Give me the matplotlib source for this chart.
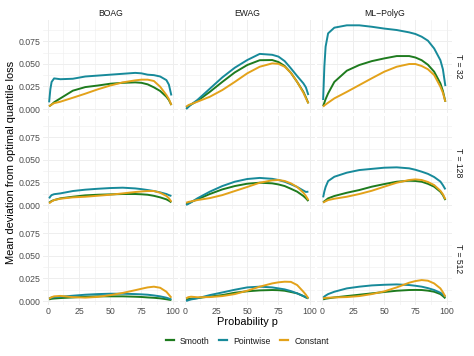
import matplotlib
matplotlib.use("Agg")
import matplotlib.pyplot as plt
from matplotlib.lines import Line2D

plt.rcParams['font.family'] = ['Liberation Sans', 'DejaVu Sans']

methods = ["BOAG", "EWAG", "ML\u2212PolyG"]
horizons = ["T = 32", "T = 128", "T = 512"]
series_names = ["Smooth", "Pointwise", "Constant"]
series_colors = {"Smooth": "#1E7B1E", "Pointwise": "#178A9A", "Constant": "#E3A21A"}

p = [1, 2, 3, 5, 10, 20, 30, 40, 50, 60, 70, 75, 80, 85, 90, 95, 97, 99]

# T = 32
boag_32_smooth = [0.003, 0.004, 0.005, 0.0075, 0.0118, 0.0203, 0.0243, 0.026, 0.028, 0.029, 0.0295, 0.029, 0.0273, 0.024, 0.020, 0.0136, 0.010, 0.0044]
boag_32_pointwise = [0.0074, 0.022, 0.030, 0.0339, 0.033, 0.0335, 0.036, 0.037, 0.038, 0.039, 0.040, 0.0395, 0.038, 0.0375, 0.036, 0.032, 0.027, 0.015]
boag_32_constant = [0.003, 0.004, 0.005, 0.0065, 0.0081, 0.0125, 0.017, 0.0218, 0.026, 0.0295, 0.0317, 0.0325, 0.0325, 0.031, 0.0247, 0.0155, 0.011, 0.0044]
ewag_32_smooth = [0.002, 0.0028, 0.0035, 0.005, 0.0089, 0.019, 0.030, 0.0405, 0.0487, 0.054, 0.0542, 0.052, 0.0476, 0.040, 0.030, 0.019, 0.013, 0.0063]
ewag_32_pointwise = [0.000, 0.0012, 0.0025, 0.005, 0.010, 0.0225, 0.035, 0.0457, 0.0542, 0.061, 0.060, 0.058, 0.053, 0.045, 0.0365, 0.0284, 0.024, 0.0155]
ewag_32_constant = [0.0026, 0.0035, 0.0045, 0.0055, 0.0081, 0.0136, 0.021, 0.030, 0.0395, 0.0468, 0.0505, 0.050, 0.0468, 0.040, 0.030, 0.018, 0.012, 0.0063]
ml_32_smooth = [0.0033, 0.007, 0.011, 0.0173, 0.030, 0.0424, 0.0487, 0.053, 0.056, 0.0586, 0.0586, 0.057, 0.054, 0.049, 0.0413, 0.0284, 0.020, 0.0081]
ml_32_pointwise = [0.010, 0.047, 0.069, 0.0837, 0.090, 0.0926, 0.0926, 0.091, 0.089, 0.0874, 0.0848, 0.083, 0.080, 0.0756, 0.067, 0.054, 0.044, 0.0254]
ml_32_constant = [0.0026, 0.004, 0.005, 0.007, 0.0118, 0.019, 0.0265, 0.034, 0.0413, 0.0468, 0.0498, 0.0498, 0.0476, 0.044, 0.0376, 0.0247, 0.018, 0.0081]

# T = 128
boag_128_smooth = [0.0026, 0.0035, 0.0045, 0.0055, 0.0074, 0.0092, 0.0107, 0.0114, 0.0118, 0.0122, 0.0122, 0.0119, 0.0114, 0.0102, 0.0085, 0.0063, 0.0048, 0.003]
boag_128_pointwise = [0.0074, 0.0095, 0.011, 0.012, 0.0129, 0.0155, 0.017, 0.018, 0.0188, 0.0192, 0.0184, 0.0176, 0.0166, 0.0155, 0.014, 0.0122, 0.011, 0.010]
boag_128_constant = [0.0018, 0.003, 0.004, 0.0055, 0.007, 0.0085, 0.0092, 0.0103, 0.0114, 0.0129, 0.0144, 0.015, 0.0155, 0.0155, 0.0136, 0.010, 0.0075, 0.0037]
ewag_128_smooth = [0.0011, 0.0015, 0.002, 0.0035, 0.0063, 0.0122, 0.0173, 0.021, 0.0236, 0.0247, 0.024, 0.0228, 0.021, 0.018, 0.0148, 0.010, 0.0075, 0.0044]
ewag_128_pointwise = [0.000, 0.0008, 0.0015, 0.003, 0.0074, 0.0148, 0.021, 0.0258, 0.0288, 0.030, 0.029, 0.0277, 0.0258, 0.023, 0.020, 0.016, 0.0145, 0.0148]
ewag_128_constant = [0.0026, 0.003, 0.0035, 0.004, 0.0055, 0.0077, 0.011, 0.0155, 0.020, 0.0247, 0.0273, 0.0277, 0.0266, 0.024, 0.020, 0.0136, 0.010, 0.0055]
ml_128_smooth = [0.003, 0.0042, 0.0052, 0.0074, 0.010, 0.0136, 0.0166, 0.0203, 0.0232, 0.0258, 0.0269, 0.0266, 0.0258, 0.0235, 0.0203, 0.0147, 0.011, 0.0055]
ml_128_pointwise = [0.0085, 0.015, 0.020, 0.0265, 0.0313, 0.0358, 0.0387, 0.040, 0.0413, 0.0417, 0.0406, 0.039, 0.0369, 0.0345, 0.031, 0.026, 0.022, 0.0173]
ml_128_constant = [0.0026, 0.0035, 0.0042, 0.0055, 0.007, 0.0092, 0.0122, 0.0158, 0.0203, 0.0247, 0.0277, 0.0284, 0.0277, 0.0255, 0.0221, 0.0158, 0.012, 0.0063]

# T = 512
boag_512_smooth = [0.0018, 0.0022, 0.0025, 0.0028, 0.0033, 0.004, 0.0048, 0.0052, 0.0052, 0.0052, 0.0048, 0.0045, 0.004, 0.0036, 0.003, 0.002, 0.0015, 0.0011]
boag_512_pointwise = [0.003, 0.0035, 0.0038, 0.0042, 0.0048, 0.0059, 0.007, 0.0077, 0.0081, 0.0081, 0.0077, 0.0074, 0.007, 0.0062, 0.0052, 0.0037, 0.0028, 0.0018]
boag_512_constant = [0.0026, 0.0035, 0.0043, 0.0052, 0.0057, 0.0043, 0.0038, 0.0046, 0.0065, 0.009, 0.012, 0.0136, 0.0151, 0.0159, 0.0147, 0.0103, 0.007, 0.0037]
ewag_512_smooth = [0.0018, 0.002, 0.0022, 0.0026, 0.0033, 0.005, 0.0066, 0.0092, 0.0108, 0.0118, 0.0122, 0.012, 0.0114, 0.010, 0.0085, 0.0055, 0.004, 0.003]
ewag_512_pointwise = [0.000, 0.0005, 0.001, 0.0018, 0.003, 0.0066, 0.0095, 0.0125, 0.0151, 0.0159, 0.0151, 0.014, 0.0129, 0.011, 0.0085, 0.0055, 0.0042, 0.003]
ewag_512_constant = [0.003, 0.0038, 0.0044, 0.0048, 0.0042, 0.0044, 0.0055, 0.0077, 0.0114, 0.0159, 0.0195, 0.0207, 0.0214, 0.0212, 0.0177, 0.0103, 0.007, 0.003]
ml_512_smooth = [0.0018, 0.0022, 0.0026, 0.003, 0.004, 0.0055, 0.007, 0.0085, 0.010, 0.0114, 0.0122, 0.0123, 0.0122, 0.0115, 0.0103, 0.0077, 0.0055, 0.003]
ml_512_pointwise = [0.0037, 0.005, 0.006, 0.0077, 0.0103, 0.014, 0.0159, 0.0173, 0.018, 0.0184, 0.0177, 0.0169, 0.0159, 0.0143, 0.0122, 0.0092, 0.0072, 0.0048]
ml_512_constant = [0.003, 0.0033, 0.0035, 0.0037, 0.004, 0.0044, 0.0055, 0.0077, 0.0107, 0.0151, 0.0203, 0.0221, 0.0232, 0.0225, 0.0195, 0.014, 0.0098, 0.0048]

data = [
    [  # T = 32
        {"Smooth": boag_32_smooth, "Pointwise": boag_32_pointwise, "Constant": boag_32_constant},
        {"Smooth": ewag_32_smooth, "Pointwise": ewag_32_pointwise, "Constant": ewag_32_constant},
        {"Smooth": ml_32_smooth, "Pointwise": ml_32_pointwise, "Constant": ml_32_constant},
    ],
    [  # T = 128
        {"Smooth": boag_128_smooth, "Pointwise": boag_128_pointwise, "Constant": boag_128_constant},
        {"Smooth": ewag_128_smooth, "Pointwise": ewag_128_pointwise, "Constant": ewag_128_constant},
        {"Smooth": ml_128_smooth, "Pointwise": ml_128_pointwise, "Constant": ml_128_constant},
    ],
    [  # T = 512
        {"Smooth": boag_512_smooth, "Pointwise": boag_512_pointwise, "Constant": boag_512_constant},
        {"Smooth": ewag_512_smooth, "Pointwise": ewag_512_pointwise, "Constant": ewag_512_constant},
        {"Smooth": ml_512_smooth, "Pointwise": ml_512_pointwise, "Constant": ml_512_constant},
    ],
]

x_ticks = [0, 25, 50, 75, 100]
x_tick_labels = ["0", "25", "50", "75", "100"]
y_ticks = [0.0, 0.025, 0.05, 0.075]
y_tick_labels = ["0.000", "0.025", "0.050", "0.075"]

W, H = 474, 356
fig = plt.figure(figsize=(W / 100, H / 100), dpi=100)

left_px, top_px = 43.0, 19.8
pw, ph = 134.5, 93.5
gap_x, gap_y = 2.5, 2.5

tick_col = "#4D4D4D"
grid_col = "#EEEEEE"

for r in range(3):
    for c in range(3):
        x0 = left_px + c * (pw + gap_x)
        y0 = top_px + r * (ph + gap_y)
        ax = fig.add_axes([x0 / W, 1 - (y0 + ph) / H, pw / W, ph / H])
        ax.set_xlim(-3.9, 103.9)
        ax.set_ylim(-0.0047, 0.0987)
        ax.set_xticks(x_ticks)
        ax.set_yticks(y_ticks)
        ax.set_xticks([12.5, 37.5, 62.5, 87.5], minor=True)
        ax.set_yticks([0.0125, 0.0375, 0.0625, 0.0875], minor=True)
        ax.grid(True, which="major", color=grid_col, lw=0.7, zorder=0)
        ax.grid(True, which="minor", color=grid_col, lw=0.4, zorder=0)
        for s in ax.spines.values():
            s.set_visible(False)
        ax.tick_params(which="both", length=0)
        ax.tick_params(axis="both", labelsize=6.3, labelcolor=tick_col, pad=1.5)
        if c == 0:
            ax.set_yticklabels(y_tick_labels)
        else:
            ax.set_yticklabels([])
        if r == 2:
            ax.set_xticklabels(x_tick_labels)
        else:
            ax.set_xticklabels([])
        for name in series_names:
            ax.plot(p, data[r][c][name], color=series_colors[name], lw=1.4,
                    solid_capstyle="butt", zorder=3)
        if r == 0:
            ax.text(0.5, 1 + (top_px - 13.7) / ph, methods[c], transform=ax.transAxes,
                    ha="center", va="center", fontsize=6.2, color="#1A1A1A")
        if c == 2:
            ax.text(1 + (458.7 - (x0 + pw)) / pw, 0.5, horizons[r], transform=ax.transAxes,
                    ha="center", va="center", rotation=270, fontsize=6.2, color="#1A1A1A")

cx = (left_px + 3 * pw + 2 * gap_x + left_px) / 2
fig.text(cx / W, 1 - 321.7 / H, "Probability p", ha="center", va="center", fontsize=7.9)
fig.text(11.5 / W, 1 - 162.5 / H, "Mean deviation from optimal quantile loss",
         ha="center", va="center", rotation=90, fontsize=7.9)

handles = [Line2D([0], [0], color=series_colors[n], lw=1.6) for n in series_names]
fig.legend(handles, series_names, loc="center", bbox_to_anchor=(cx / W, 1 - 341 / H),
           ncol=3, frameon=False, fontsize=6.2, handlelength=0.95, handletextpad=0.7,
           columnspacing=1.1, borderpad=0, labelcolor="#1A1A1A")

fig.savefig("out.png", dpi=100, facecolor="white")
